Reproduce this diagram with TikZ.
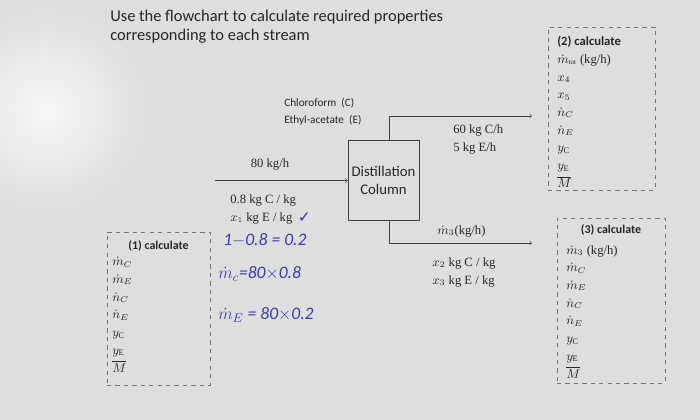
\documentclass[tikz,border=0pt]{standalone}
\usepackage{amsmath}
\usepackage{fontspec}
\setmainfont{Liberation Serif}
\setsansfont{Carlito}
\newfontfamily\symfont{DejaVu Sans}
\definecolor{penblue}{RGB}{62,58,175}
\usetikzlibrary{positioning}

\begin{document}
\begin{tikzpicture}[
      x = 0.025cm, y = -0.025cm,
      every node/.style = {inner sep = 0pt, text = black!85},
      title/.style = {font = \sffamily\fontsize{11.7}{13.5}\selectfont, align = left, anchor = north west},
      comp/.style = {font = \sffamily\fontsize{8}{12}\selectfont, align = left, anchor = north west},
      unit/.style = {font = \fontsize{9}{13}\selectfont, align = left, anchor = north west},
      flow/.style = {draw = black!75, thin, ->},
      unitbox/.style = {draw = black!75, thin, align = center, font = \sffamily\fontsize{10.5}{13}\selectfont},
      calcbox/.style = {draw = black!55, dashed, thin},
      calclist/.style = {font = \fontsize{9}{12.6}\selectfont, align = left, anchor = north west},
      calchead/.style = {font = \sffamily\bfseries\fontsize{8.5}{10}\selectfont},
      hand/.style = {text = penblue, font = \sffamily\itshape\fontsize{12.5}{14}\selectfont, anchor = west}
      ]
      % background of the sheet
      \useasboundingbox (0,0) rectangle (700,420);
      \fill[black!13] (0,0) rectangle (700,420);
      \begin{scope}
            \clip (0,0) rectangle (700,420);
            \shade[inner color = black!3, outer color = black!13] (45,110) circle [radius = 2.6cm];
      \end{scope}

      \node[title] (task) at (110,10) {Use the flowchart to calculate required properties\\corresponding to each stream};

      % column and streams
      \node[unitbox, minimum width = 1.775cm, minimum height = 2cm] (col) at (383.5,180.5) {Distillation\\Column};
      \coordinate (feedin) at (215,180.5);
      \coordinate (topout) at (532,116);
      \coordinate (botout) at (532,243);
      \draw[flow] (feedin) -- (col.west);
      \draw[flow] ([xshift = 3.9pt]col.north) |- (topout);
      \draw[flow] ([xshift = 3.9pt]col.south) |- (botout);

      \node[comp] (feedcomp) at (284,98) {Chloroform \ (C)\\Ethyl-acetate \ (E)};
      \node[unit, anchor = south] (feedrate) at (270,171) {80 kg/h};
      \node[unit] (feedx) at (230,194) {0.8 kg C / kg\\$x_{\scriptscriptstyle 1}$ kg E / kg};
      \node[unit] (topx) at (453,124) {60 kg C/h\\5 kg E/h};
      \node[unit] (botrate) at (437,225) {$\dot m_3$(kg/h)};
      \node[unit] (botx) at (432,257) {$x_2$ kg C / kg\\$x_3$ kg E / kg};

      % handwritten working
      \node[hand, font = \symfont\fontsize{11}{12}\selectfont] (tick) at (feedx.south east) [xshift = 1pt, yshift = 5pt] {\char"2713};
      \node[hand] (work1) at (223,240) {1$-$0.8 = 0.2};
      \node[hand] (work2) at (218,274) {$\dot m_{c}$=80$\times$0.8};
      \node[hand] (work3) at (218,315) {$\dot m_{E}$ = 80$\times$0.2};

      % (2) top stream
      \node[calcbox, minimum width = 2.675cm, minimum height = 4.075cm] (calc2) at (601.5,108.5) {};
      \node[calclist] (list2) at (557,36) {\textsf{\bfseries (2) calculate}\\
            $\dot m_{\text{\tiny tot}}$ (kg/h)\\ $x_4$\\ $x_5$\\ $\dot n_C$\\ $\dot n_E$\\
            $y_{\mathrm C}$\\ $y_{\mathrm E}$\\ $\overline{M}$};

      % (3) bottom stream
      \node[calcbox, minimum width = 2.7cm, minimum height = 4.125cm] (calc3) at (611,300.5) {};
      \node[calchead, below = 5pt of calc3.north] (head3) {(3) calculate};
      \node[calclist] (list3) at (566,245) {$\dot m_3$ (kg/h)\\ $\dot m_C$\\ $\dot m_E$\\
            $\dot n_C$\\ $\dot n_E$\\ $y_{\mathrm C}$\\ $y_{\mathrm E}$\\ $\overline{M}$};

      % (1) feed stream
      \node[calcbox, minimum width = 2.575cm, minimum height = 3.825cm] (calc1) at (158.5,308.5) {};
      \node[calchead, below = 6pt of calc1.north] (head1) {(1) calculate};
      \node[calclist] (list1) at (112,257) {$\dot m_C$\\ $\dot m_E$\\ $\dot n_C$\\ $\dot n_E$\\
            $y_{\mathrm C}$\\ $y_{\mathrm E}$\\ $\overline{M}$};
    \end{tikzpicture}
\end{document}
